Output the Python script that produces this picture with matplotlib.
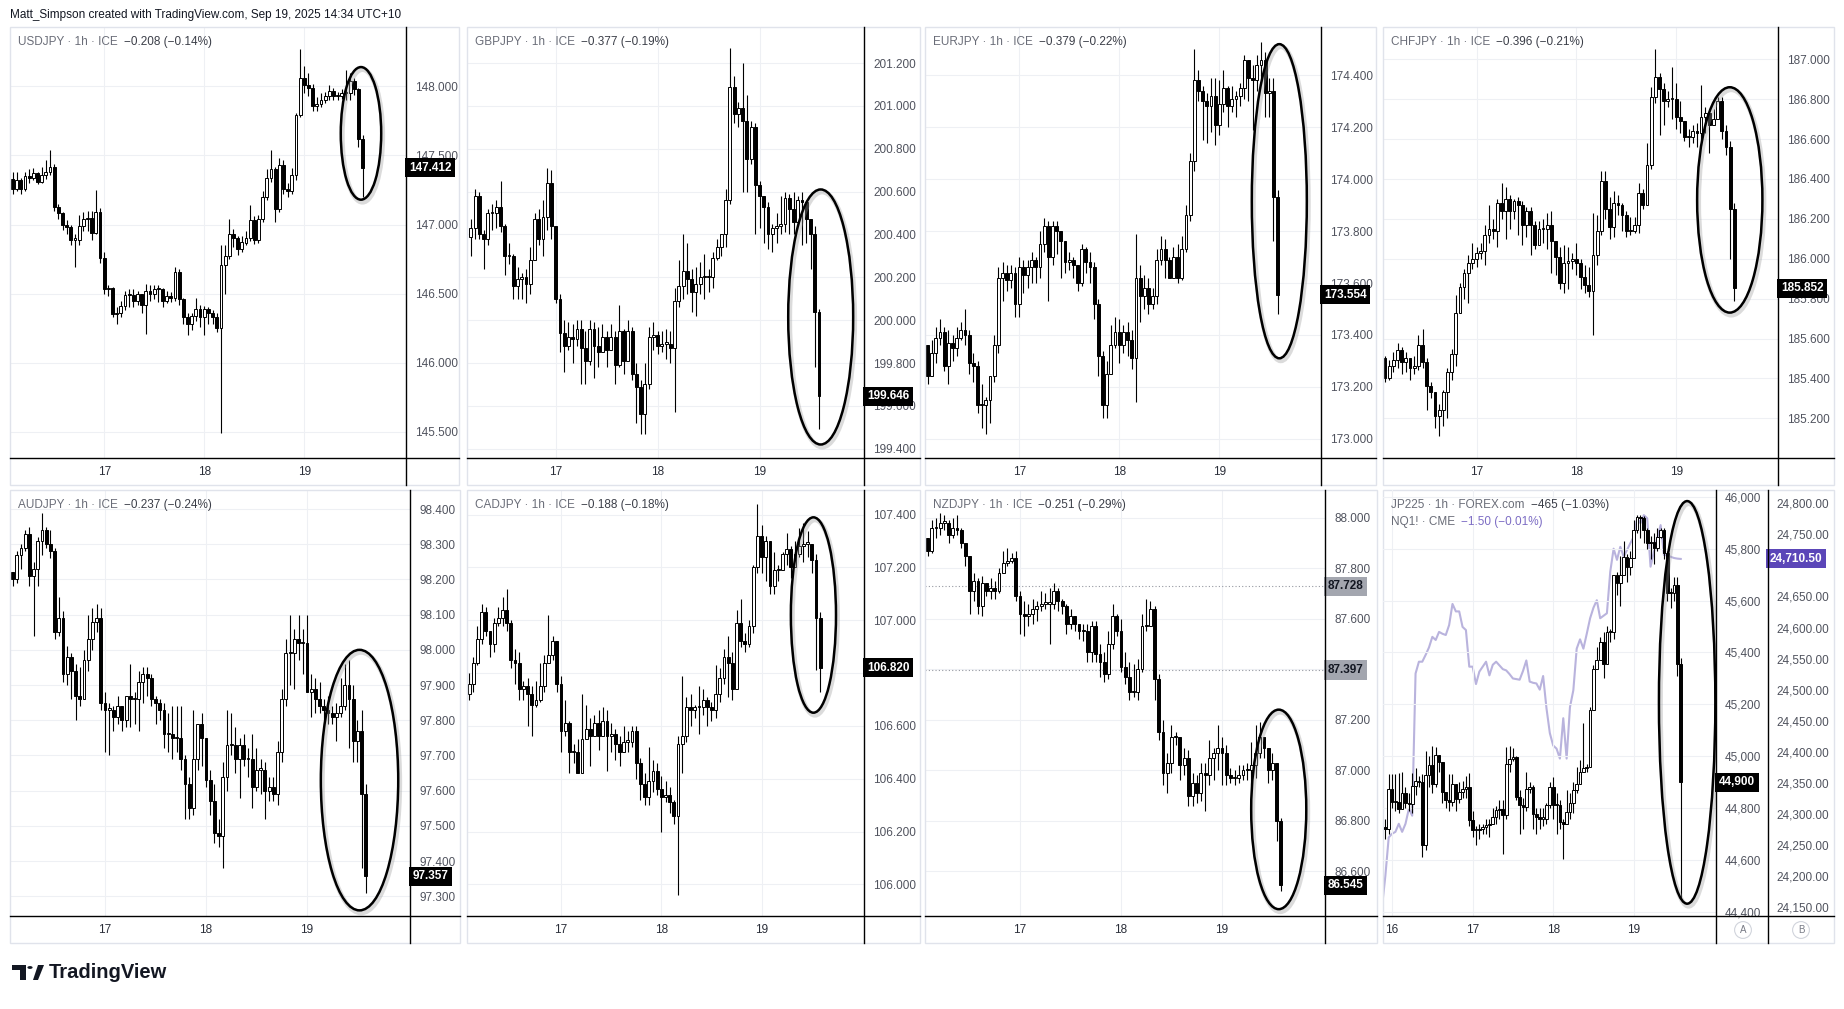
import numpy as np
import matplotlib
matplotlib.use('Agg')
import matplotlib.pyplot as plt
import matplotlib.transforms as mtransforms
from matplotlib.patches import Ellipse, Rectangle, Polygon, Circle
from matplotlib.lines import Line2D

plt.rcParams['font.family'] = ['Liberation Sans', 'DejaVu Sans']

# hours are counted from Sep 17 00:00, last candle = Sep 19 14:00
LAST_HOUR = 62
DAY_TICKS = [0, 24, 48]
DAY_LABELS = ['17', '18', '19']

# ---------------- data (hourly candles) ----------------
usdjpy_open0 = 147.33
usdjpy_close = [
    147.26, 147.32, 147.26, 147.35, 147.34, 147.37, 147.31, 147.36, 147.38, 147.42,
    147.13, 147.08, 147.00, 146.98, 146.89, 146.89, 146.99, 147.04, 147.05, 146.94,
    147.09, 146.76, 146.53, 146.54, 146.35, 146.36, 146.41, 146.49, 146.49, 146.45,
    146.50, 146.42, 146.52, 146.50, 146.53, 146.53, 146.45, 146.48, 146.47, 146.66,
    146.46, 146.33, 146.28, 146.34, 146.39, 146.33, 146.39, 146.36, 146.33, 146.25,
    146.71, 146.77, 146.93, 146.90, 146.82, 146.87, 146.90, 147.03, 146.89, 147.04,
    147.20, 147.34, 147.40, 147.11, 147.43, 147.26, 147.24, 147.36, 147.79, 148.06,
    148.01, 147.99, 147.86, 147.87, 147.90, 147.93, 147.97, 147.93, 147.93, 147.95,
    147.95, 148.04, 147.98, 147.62, 147.412]
usdjpy_high = [
    147.38, 147.38, 147.34, 147.38, 147.40, 147.41, 147.38, 147.42, 147.47, 147.54,
    147.44, 147.15, 147.09, 147.03, 147.00, 146.93, 147.07, 147.09, 147.10, 147.10,
    147.25, 147.12, 146.80, 146.56, 146.55, 146.40, 146.45, 146.52, 146.53, 146.53,
    146.52, 146.50, 146.57, 146.56, 146.56, 146.56, 146.54, 146.52, 146.51, 146.69,
    146.68, 146.47, 146.36, 146.36, 146.47, 146.42, 146.41, 146.40, 146.38, 146.36,
    146.85, 146.85, 147.04, 146.97, 146.92, 146.92, 146.95, 147.14, 147.06, 147.07,
    147.24, 147.40, 147.54, 147.42, 147.48, 147.47, 147.30, 147.41, 147.81, 148.27,
    148.15, 148.10, 148.02, 147.92, 147.95, 147.96, 148.01, 147.99, 147.96, 147.98,
    148.12, 148.10, 148.06, 147.99, 147.65]
usdjpy_low = [
    147.22, 147.24, 147.22, 147.24, 147.30, 147.32, 147.29, 147.30, 147.33, 147.36,
    147.10, 147.04, 146.96, 146.93, 146.85, 146.69, 146.85, 146.95, 146.95, 146.89,
    146.93, 146.72, 146.50, 146.48, 146.33, 146.28, 146.33, 146.38, 146.40, 146.40,
    146.42, 146.36, 146.21, 146.45, 146.46, 146.44, 146.40, 146.43, 146.44, 146.45,
    146.42, 146.28, 146.20, 146.24, 146.30, 146.26, 146.20, 146.28, 146.28, 146.22,
    145.49, 146.50, 146.75, 146.84, 146.78, 146.80, 146.85, 146.88, 146.86, 146.87,
    147.02, 147.18, 147.31, 147.02, 147.09, 147.22, 147.20, 147.22, 147.32, 147.78,
    147.95, 147.93, 147.82, 147.82, 147.85, 147.88, 147.90, 147.90, 147.90, 147.91,
    147.90, 147.90, 147.94, 147.56, 147.20]

gbpjpy_open0 = 200.39
gbpjpy_close = [
    200.43, 200.58, 200.40, 200.38, 200.50, 200.50, 200.53, 200.44, 200.30, 200.30,
    200.16, 200.19, 200.20, 200.17, 200.28, 200.47, 200.38, 200.48, 200.64, 200.44,
    200.10, 199.94, 199.88, 199.92, 199.91, 199.96, 199.87, 199.81, 199.96, 199.88,
    199.85, 199.92, 199.86, 199.92, 199.79, 199.95, 199.81, 199.95, 199.75, 199.69,
    199.56, 199.70, 199.92, 199.93, 199.88, 199.89, 199.89, 199.87, 200.09, 200.16,
    200.23, 200.19, 200.13, 200.17, 200.20, 200.20, 200.20, 200.29, 200.34, 200.40,
    200.56, 201.09, 200.96, 200.99, 200.93, 200.75, 200.90, 200.63, 200.58, 200.53,
    200.40, 200.43, 200.44, 200.45, 200.57, 200.52, 200.46, 200.56, 200.55, 200.47,
    200.40, 200.04, 199.646]
gbpjpy_high = [
    200.47, 200.61, 200.60, 200.42, 200.52, 200.54, 200.56, 200.65, 200.45, 200.36,
    200.31, 200.25, 200.22, 200.24, 200.34, 200.50, 200.52, 200.56, 200.71, 200.70,
    200.44, 200.12, 200.00, 199.99, 199.98, 200.00, 200.00, 199.95, 200.00, 199.99,
    199.97, 199.98, 199.95, 199.98, 199.95, 200.07, 199.96, 200.00, 199.97, 199.80,
    199.72, 199.80, 199.97, 199.99, 199.95, 199.95, 199.96, 199.95, 200.15, 200.28,
    200.40, 200.36, 200.24, 200.25, 200.27, 200.31, 200.24, 200.32, 200.38, 200.40,
    200.61, 201.27, 201.14, 201.02, 201.20, 201.05, 200.93, 200.92, 200.65, 200.58,
    200.55, 200.45, 200.50, 200.58, 200.60, 200.59, 200.60, 200.58, 200.60, 200.55,
    200.47, 200.44, 200.05]
gbpjpy_low = [
    200.30, 200.38, 200.38, 200.24, 200.35, 200.42, 200.43, 200.41, 200.21, 200.26,
    200.10, 200.10, 200.10, 200.08, 200.12, 200.28, 200.35, 200.30, 200.42, 200.38,
    200.08, 199.85, 199.76, 199.86, 199.80, 199.88, 199.70, 199.70, 199.79, 199.73,
    199.78, 199.85, 199.78, 199.86, 199.70, 199.78, 199.75, 199.82, 199.72, 199.52,
    199.47, 199.47, 199.68, 199.86, 199.84, 199.85, 199.82, 199.80, 199.57, 200.06,
    200.10, 200.12, 200.04, 200.02, 200.12, 200.10, 200.13, 200.15, 200.28, 200.30,
    200.34, 200.54, 200.92, 200.90, 200.60, 200.60, 200.73, 200.40, 200.43, 200.36,
    200.33, 200.32, 200.36, 200.40, 200.41, 200.40, 200.40, 200.44, 200.35, 200.36,
    200.24, 199.78, 199.49]

eurjpy_open0 = 173.36
eurjpy_close = [
    173.24, 173.33, 173.39, 173.41, 173.28, 173.37, 173.35, 173.39, 173.42, 173.40,
    173.29, 173.28, 173.13, 173.13, 173.15, 173.24, 173.36, 173.62, 173.64, 173.61,
    173.64, 173.52, 173.66, 173.63, 173.66, 173.69, 173.66, 173.75, 173.82, 173.70,
    173.82, 173.80, 173.76, 173.68, 173.69, 173.67, 173.60, 173.73, 173.68, 173.66,
    173.52, 173.32, 173.13, 173.25, 173.36, 173.41, 173.36, 173.41, 173.38, 173.31,
    173.62, 173.55, 173.58, 173.52, 173.55, 173.69, 173.73, 173.69, 173.62, 173.70,
    173.62, 173.73, 173.86, 174.07, 174.38, 174.34, 174.30, 174.28, 174.32, 174.21,
    174.29, 174.35, 174.28, 174.31, 174.32, 174.35, 174.46, 174.39, 174.38, 174.44,
    174.46, 174.33, 174.34, 173.93, 173.554]
eurjpy_high = [
    173.35, 173.38, 173.43, 173.46, 173.43, 173.42, 173.40, 173.43, 173.45, 173.50, 173.42,
    173.33, 173.30, 173.21, 173.16, 173.23, 173.40, 173.66, 173.68, 173.67, 173.67, 173.66,
    173.70, 173.69, 173.69, 173.72, 173.70, 173.80, 173.85, 173.84, 173.84, 173.84, 173.78,
    173.74, 173.72, 173.70, 173.67, 173.75, 173.74, 173.72, 173.68, 173.54, 173.34,
    173.30, 173.44, 173.47, 173.46, 173.44, 173.45, 173.42, 173.79, 173.67, 173.63, 173.62,
    173.58, 173.73, 173.78, 173.77, 173.70, 173.74, 173.75, 173.78, 173.90, 174.10,
    174.50, 174.42, 174.36, 174.33, 174.39, 174.39, 174.38, 174.42, 174.36, 174.36, 174.34,
    174.37, 174.48, 174.46, 174.44, 174.48, 174.53, 174.49, 174.39, 174.39, 173.96]
eurjpy_low = [
    173.21, 173.24, 173.29, 173.36, 173.26, 173.21, 173.30, 173.32, 173.38, 173.36, 173.25,
    173.22, 173.10, 173.04, 173.02, 173.06, 173.22, 173.33, 173.53, 173.57, 173.58, 173.47,
    173.47, 173.56, 173.58, 173.60, 173.60, 173.62, 173.72, 173.53, 173.67, 173.71, 173.62,
    173.64, 173.65, 173.62, 173.57, 173.59, 173.64, 173.60, 173.46, 173.24, 173.08,
    173.08, 173.30, 173.35, 173.29, 173.33, 173.32, 173.27, 173.14, 173.45, 173.50, 173.48,
    173.50, 173.52, 173.67, 173.62, 173.62, 173.62, 173.60, 173.61, 173.72, 173.84,
    174.03, 174.30, 174.15, 174.14, 174.18, 174.13, 174.17, 174.26, 174.20, 174.26, 174.24,
    174.28, 174.31, 174.30, 174.19, 174.34, 174.39, 174.24, 174.24, 173.76, 173.48]

chfjpy_open0 = 185.50
chfjpy_close = [
    185.40, 185.46, 185.49, 185.54, 185.48, 185.50, 185.45, 185.46, 185.57, 185.48,
    185.36, 185.33, 185.21, 185.24, 185.33, 185.43, 185.52, 185.73, 185.86, 185.93,
    185.98, 186.00, 186.03, 186.04, 186.12, 186.15, 186.14, 186.28, 186.24, 186.30,
    186.24, 186.29, 186.27, 186.17, 186.24, 186.17, 186.07, 186.15, 186.15, 186.17,
    186.09, 186.01, 185.88, 185.98, 185.99, 186.00, 185.98, 185.91, 185.87, 185.84,
    186.02, 186.14, 186.39, 186.25, 186.16, 186.28, 186.27, 186.22, 186.14, 186.14,
    186.17, 186.33, 186.27, 186.47, 186.81, 186.91, 186.85, 186.79, 186.80, 186.80,
    186.71, 186.69, 186.61, 186.61, 186.64, 186.63, 186.71, 186.73, 186.67, 186.70,
    186.79, 186.64, 186.56, 186.25, 185.852]
chfjpy_high = [
    185.51, 185.49, 185.53, 185.58, 185.56, 185.53, 185.50, 185.51, 185.62, 185.65, 185.50,
    185.38, 185.32, 185.27, 185.34, 185.45, 185.55, 185.82, 185.88, 185.95, 186.02, 186.08,
    186.06, 186.08, 186.17, 186.27, 186.20, 186.30, 186.38, 186.36, 186.32, 186.30, 186.31,
    186.29, 186.26, 186.26, 186.19, 186.19, 186.20, 186.23, 186.24, 186.07, 186.06,
    186.07, 186.06, 186.03, 186.08, 186.00, 185.97, 185.96, 186.23, 186.22, 186.44, 186.44,
    186.31, 186.34, 186.32, 186.28, 186.24, 186.21, 186.21, 186.38, 186.35, 186.58,
    186.86, 187.05, 186.93, 186.88, 186.84, 186.96, 186.88, 186.79, 186.65, 186.65, 186.67,
    186.68, 186.87, 186.76, 186.72, 186.75, 186.81, 186.81, 186.67, 186.59, 186.28]
chfjpy_low = [
    185.38, 185.39, 185.43, 185.45, 185.42, 185.43, 185.39, 185.42, 185.44, 185.45, 185.24,
    185.30, 185.15, 185.11, 185.16, 185.20, 185.39, 185.46, 185.73, 185.80, 185.78, 185.95,
    185.96, 186.00, 185.97, 186.08, 186.10, 186.06, 186.20, 186.10, 186.15, 186.20, 186.12,
    186.07, 186.11, 186.02, 186.05, 186.13, 186.08, 186.05, 185.93, 185.92, 185.85,
    185.83, 185.85, 185.95, 185.92, 185.85, 185.83, 185.81, 185.62, 185.97, 186.12, 186.20,
    186.10, 186.11, 186.22, 186.14, 186.11, 186.12, 186.13, 186.13, 186.25, 186.43,
    186.45, 186.78, 186.62, 186.67, 186.76, 186.70, 186.65, 186.63, 186.59, 186.56, 186.58,
    186.56, 186.59, 186.63, 186.53, 186.67, 186.71, 186.60, 186.52, 186.00, 185.79]

audjpy_open0 = 98.22
audjpy_close = [
    98.20, 98.27, 98.29, 98.33, 98.21, 98.23, 98.31, 98.34, 98.30, 98.28,
    98.05, 98.09, 97.93, 97.98, 97.94, 97.87, 97.86, 97.97, 98.03, 98.08,
    98.09, 97.85, 97.83, 97.83, 97.81, 97.84, 97.80, 97.87, 97.86, 97.86,
    97.91, 97.93, 97.92, 97.86, 97.85, 97.83, 97.76, 97.76, 97.75, 97.75,
    97.69, 97.62, 97.55, 97.69, 97.79, 97.75, 97.63, 97.57, 97.48, 97.47,
    97.64, 97.73, 97.73, 97.69, 97.73, 97.69, 97.69, 97.61, 97.66, 97.66,
    97.60, 97.61, 97.59, 97.71, 97.86, 97.99, 97.99, 98.03, 98.02, 98.02,
    97.88, 97.89, 97.86, 97.84, 97.83, 97.82, 97.81, 97.82, 97.84, 97.90,
    97.86, 97.74, 97.77, 97.59, 97.357]
audjpy_high = [
    98.22, 98.28, 98.30, 98.34, 98.35, 98.25, 98.32, 98.39, 98.35, 98.34, 98.29,
    98.15, 98.11, 98.01, 97.99, 97.96, 97.95, 98.00, 98.10, 98.12, 98.13, 98.12,
    97.88, 97.85, 97.84, 97.87, 97.84, 97.87, 97.96, 97.88, 97.94, 97.95, 97.95,
    97.93, 97.87, 97.86, 97.85, 97.82, 97.84, 97.84, 97.84, 97.70, 97.64,
    97.83, 97.79, 97.82, 97.75, 97.66, 97.62, 97.52, 97.68, 97.83, 97.82, 97.78,
    97.75, 97.76, 97.72, 97.76, 97.72, 97.69, 97.68, 97.64, 97.64, 97.74,
    97.89, 98.03, 98.10, 98.06, 98.10, 98.06, 98.10, 97.93, 97.92, 97.91, 97.86,
    97.87, 97.84, 97.85, 97.92, 97.96, 97.97, 97.90, 97.80, 97.83, 97.62]
audjpy_low = [
    98.18, 98.19, 98.23, 98.28, 98.18, 98.04, 98.18, 98.27, 98.29, 98.26, 98.03,
    98.04, 97.91, 97.90, 97.86, 97.80, 97.84, 97.91, 97.94, 98.00, 98.05, 97.83,
    97.71, 97.70, 97.77, 97.79, 97.77, 97.78, 97.78, 97.79, 97.77, 97.85, 97.87,
    97.84, 97.79, 97.80, 97.72, 97.71, 97.69, 97.71, 97.66, 97.52, 97.52,
    97.53, 97.66, 97.67, 97.61, 97.53, 97.45, 97.44, 97.38, 97.60, 97.70, 97.65,
    97.58, 97.67, 97.64, 97.55, 97.60, 97.59, 97.52, 97.57, 97.57, 97.56,
    97.68, 97.84, 97.90, 97.89, 97.97, 97.93, 97.92, 97.81, 97.82, 97.82, 97.80,
    97.79, 97.79, 97.74, 97.81, 97.83, 97.72, 97.68, 97.68, 97.38, 97.31]

cadjpy_open0 = 106.72
cadjpy_close = [
    106.76, 106.84, 106.93, 107.03, 106.96, 106.91, 106.99, 107.01, 107.04, 106.99,
    106.85, 106.84, 106.74, 106.75, 106.72, 106.68, 106.70, 106.75, 106.84, 106.87,
    106.92, 106.76, 106.58, 106.61, 106.50, 106.50, 106.42, 106.55, 106.59, 106.56,
    106.61, 106.56, 106.62, 106.56, 106.57, 106.53, 106.50, 106.54, 106.54, 106.58,
    106.46, 106.38, 106.33, 106.39, 106.43, 106.36, 106.33, 106.34, 106.31, 106.26,
    106.53, 106.56, 106.67, 106.66, 106.67, 106.67, 106.70, 106.67, 106.66, 106.72,
    106.78, 106.86, 106.84, 106.74, 106.99, 106.92, 106.91, 106.98, 107.20, 107.32,
    107.24, 107.30, 107.13, 107.19, 107.19, 107.25, 107.27, 107.20, 107.25, 107.28,
    107.29, 107.29, 107.23, 107.01, 106.82]
cadjpy_high = [
    106.80, 106.86, 106.98, 107.06, 107.05, 106.96, 107.01, 107.05, 107.09, 107.12, 107.00,
    106.89, 106.88, 106.77, 106.78, 106.75, 106.77, 106.84, 106.87, 107.02, 106.94, 106.91,
    106.79, 106.70, 106.62, 106.53, 106.55, 106.72, 106.68, 106.63, 106.64, 106.66, 106.67,
    106.66, 106.61, 106.59, 106.56, 106.60, 106.58, 106.60, 106.60, 106.48, 106.42,
    106.52, 106.47, 106.46, 106.41, 106.39, 106.37, 106.32, 106.56, 106.79, 106.71, 106.72,
    106.68, 106.75, 106.74, 106.71, 106.69, 106.83, 106.82, 106.89, 106.94, 106.88,
    107.04, 107.08, 106.95, 107.00, 107.21, 107.44, 107.36, 107.32, 107.29, 107.26, 107.21,
    107.26, 107.33, 107.28, 107.30, 107.35, 107.37, 107.34, 107.28, 107.25, 107.03]
cadjpy_low = [
    106.70, 106.73, 106.83, 106.91, 106.94, 106.86, 106.88, 106.98, 106.98, 106.96, 106.82,
    106.76, 106.70, 106.70, 106.60, 106.56, 106.67, 106.69, 106.73, 106.84, 106.85, 106.73,
    106.50, 106.56, 106.42, 106.46, 106.42, 106.49, 106.55, 106.45, 106.56, 106.51, 106.58,
    106.43, 106.50, 106.47, 106.45, 106.52, 106.50, 106.52, 106.40, 106.32, 106.30,
    106.30, 106.35, 106.34, 106.20, 106.31, 106.27, 106.23, 105.96, 106.42, 106.54, 106.60,
    106.63, 106.57, 106.64, 106.60, 106.62, 106.63, 106.69, 106.76, 106.71, 106.70,
    106.89, 106.90, 106.88, 106.90, 106.95, 107.18, 107.18, 107.15, 107.10, 107.10, 107.15,
    107.20, 107.21, 107.16, 107.20, 107.24, 107.22, 107.24, 107.18, 106.81, 106.73]

nzdjpy_open0 = 87.92
nzdjpy_close = [
    87.87, 87.96, 87.96, 87.98, 87.98, 87.93, 87.96, 87.95, 87.90, 87.85,
    87.71, 87.75, 87.65, 87.74, 87.71, 87.72, 87.71, 87.78, 87.82, 87.83,
    87.84, 87.69, 87.62, 87.61, 87.62, 87.64, 87.65, 87.66, 87.66, 87.66,
    87.71, 87.67, 87.65, 87.58, 87.61, 87.58, 87.55, 87.55, 87.47, 87.57,
    87.46, 87.43, 87.38, 87.50, 87.61, 87.55, 87.41, 87.37, 87.31, 87.31,
    87.40, 87.57, 87.57, 87.64, 87.36, 87.15, 86.99, 87.03, 87.13, 87.13,
    87.02, 87.05, 86.90, 86.95, 86.91, 86.99, 86.98, 87.05, 87.07, 87.09,
    87.07, 86.98, 86.97, 86.97, 86.98, 87.00, 87.00, 87.02, 87.07, 87.13,
    87.09, 87.00, 87.03, 86.80, 86.545]
nzdjpy_high = [
    87.92, 87.99, 88.00, 88.02, 88.01, 87.99, 88.00, 88.01, 87.96, 87.87, 87.78,
    87.78, 87.76, 87.77, 87.74, 87.76, 87.75, 87.80, 87.87, 87.88, 87.86, 87.87,
    87.71, 87.67, 87.66, 87.68, 87.67, 87.71, 87.70, 87.72, 87.74, 87.72, 87.68,
    87.66, 87.64, 87.61, 87.58, 87.58, 87.58, 87.59, 87.59, 87.50, 87.47,
    87.55, 87.66, 87.62, 87.60, 87.47, 87.43, 87.42, 87.44, 87.62, 87.68, 87.67,
    87.65, 87.38, 87.20, 87.07, 87.18, 87.15, 87.12, 87.09, 87.08, 86.99,
    86.98, 87.03, 87.03, 87.12, 87.09, 87.18, 87.13, 87.10, 87.01, 87.00, 87.02,
    87.02, 87.03, 87.11, 87.18, 87.19, 87.13, 87.09, 87.07, 87.02, 86.81]
nzdjpy_low = [
    87.85, 87.86, 87.92, 87.93, 87.95, 87.90, 87.92, 87.93, 87.88, 87.81, 87.62,
    87.67, 87.62, 87.61, 87.69, 87.68, 87.68, 87.70, 87.78, 87.81, 87.82, 87.67,
    87.54, 87.53, 87.57, 87.58, 87.59, 87.63, 87.64, 87.50, 87.64, 87.63, 87.62,
    87.54, 87.56, 87.55, 87.52, 87.51, 87.43, 87.43, 87.43, 87.37, 87.35,
    87.36, 87.48, 87.53, 87.39, 87.34, 87.28, 87.29, 87.28, 87.39, 87.55, 87.57,
    87.28, 87.12, 86.94, 86.91, 86.99, 87.10, 86.96, 86.98, 86.86, 86.86,
    86.87, 86.88, 86.84, 86.94, 86.96, 87.00, 86.94, 86.94, 86.95, 86.94, 86.95,
    86.96, 86.96, 86.94, 86.97, 87.05, 87.05, 86.95, 86.96, 86.72, 86.52]
nzdjpy_levels = [87.728, 87.397]

jp225_open0 = 44725
jp225_close = [
    44721, 44875, 44824, 44824, 44798, 44860, 44820, 44815, 44885, 44905,
    44900, 44657, 44927, 44965, 44895, 45004, 44978, 44863, 44830, 44824,
    44895, 44837, 44862, 44875, 44880, 44753, 44715, 44715, 44720, 44728,
    44734, 44740, 44766, 44792, 44798, 44773, 44972, 44991, 44997, 44843,
    44811, 44805, 44875, 44882, 44779, 44766, 44760, 44760, 44811, 44882,
    44811, 44811, 44747, 44740, 44785, 44818, 44869, 44895, 44940, 44953,
    44959, 45177, 45338, 45370, 45441, 45357, 45479, 45479, 45698, 45666,
    45698, 45769, 45730, 45762, 45871, 45923, 45916, 45871, 45820, 45826,
    45801, 45846, 45871, 45782, 45627, 45627, 45659, 45357, 44900]
jp225_high = [
    44760, 44930, 44930, 44930, 44935, 44940, 44880, 44860, 44935, 44955, 44925, 44930, 45020,
    45000, 45040, 45035, 45000, 44880, 44860, 44930, 44930, 44880, 44900, 44905, 44925, 44935,
    44790, 44730, 44740, 44740, 44760, 44760, 44800, 44810, 44830, 44830, 45035,
    45040, 45030, 45000, 44870, 44840, 44940, 44900, 44890, 44800, 44800,
    44800, 44820, 44900, 44920, 44860, 44830, 44760, 44870, 44860, 44900, 44960,
    44985, 45130, 44970, 45190, 45350, 45420, 45460, 45480, 45500, 45490,
    45700, 45710, 45770, 45830, 45780, 45790, 45910, 45930, 45930, 45925, 45880,
    45850, 45860, 45880, 45880, 45880, 45790, 45650, 45690, 45690, 45380]
jp225_low = [
    44680, 44700, 44800, 44790, 44780, 44800, 44800, 44790, 44780, 44850, 44880, 44610, 44640,
    44880, 44860, 44880, 44940, 44820, 44800, 44790, 44810, 44790, 44820, 44840, 44840, 44730,
    44690, 44660, 44680, 44700, 44700, 44690, 44740, 44740, 44760, 44622, 44760,
    44940, 44980, 44830, 44700, 44720, 44790, 44860, 44720, 44700, 44720,
    44730, 44740, 44800, 44760, 44700, 44720, 44606, 44740, 44760, 44780, 44860,
    44900, 44950, 44940, 45140, 45320, 45340, 45390, 45300, 45460, 45440,
    45450, 45620, 45580, 45720, 45670, 45700, 45800, 45860, 45840, 45820, 45800,
    45760, 45740, 45790, 45840, 45760, 45600, 45570, 45600, 45310, 44450]

# NQ1! hourly closes (overlay line, right-most scale)
nq_close = [
    24150, 24200, 24262, 24268, 24271, 24284, 24271, 24284, 24308, 24297,
    24526, 24545, 24545, 24556, 24568, 24585, 24580, 24593, 24590, 24588,
    24604, 24638, 24626, 24626, 24601, 24596, 24537,
    24537, 24509, 24529, 24537, 24545, 24523, 24540, 24545, 24539, 24533,
    24531, 24525, 24518, 24517, 24516, 24530, 24547, 24513, 24511, 24510,
    24500, 24522, 24470, 24430, 24410, 24405, 24389, 24454, 24389, 24472,
    24499, 24566, 24581, 24566, 24590, 24615, 24632, 24644, 24615, 24619,
    24623, 24690, 24727, 24709, 24730, 24714, 24725, 24736, 24746, 24776,
    24768, 24781, 24776, 24698, 24722, 24744, 24765, 24717, 24716, 24714,
    24712, 24711, 24710.5]
nq_ticks = [24150, 24200, 24250, 24300, 24350, 24400, 24450, 24500, 24550, 24600,
            24650, 24700, 24750, 24800]

# ---------------- panel setup ----------------
fx3 = '{:.3f}'
PANELS = [
    dict(box=(10, 27, 406, 458, 459, 485), xlim=(-22.6, 72.4), ylim=(145.31, 148.43),
         yticks=[145.5, 146.0, 146.5, 147.0, 147.5, 148.0], fmt=fx3,
         name='USDJPY · 1h · ICE', chg='−0.208 (−0.14%)',
         o0=usdjpy_open0, c=usdjpy_close, h=usdjpy_high, l=usdjpy_low,
         ell=(61.6, 9.7, 148.14, 147.18)),
    dict(box=(467, 27, 864, 458, 920, 485), xlim=(-20.9, 72.6), ylim=(199.357, 201.368),
         yticks=[199.4, 199.6, 199.8, 200.0, 200.2, 200.4, 200.6, 200.8, 201.0, 201.2], fmt=fx3,
         name='GBPJPY · 1h · ICE', chg='−0.377 (−0.19%)',
         o0=gbpjpy_open0, c=gbpjpy_close, h=gbpjpy_high, l=gbpjpy_low,
         ell=(62.4, 15.3, 200.61, 199.42)),
    dict(box=(925, 27, 1321, 458, 1376, 485), xlim=(-22.6, 72.4), ylim=(172.926, 174.586),
         yticks=[173.0, 173.2, 173.4, 173.6, 173.8, 174.0, 174.2, 174.4], fmt=fx3,
         name='EURJPY · 1h · ICE', chg='−0.379 (−0.22%)',
         o0=eurjpy_open0, c=eurjpy_close, h=eurjpy_high, l=eurjpy_low,
         ell=(62.4, 13.2, 174.52, 173.31)),
    dict(box=(1383, 27, 1778, 458, 1834, 485), xlim=(-22.5, 72.5), ylim=(185.001, 187.162),
         yticks=[185.2, 185.4, 185.6, 185.8, 186.0, 186.2, 186.4, 186.6, 186.8, 187.0], fmt=fx3,
         name='CHFJPY · 1h · ICE', chg='−0.396 (−0.21%)',
         o0=chfjpy_open0, c=chfjpy_close, h=chfjpy_high, l=chfjpy_low,
         ell=(60.9, 15.7, 186.86, 185.73)),
    dict(box=(10, 490, 410, 916, 460, 943), xlim=(-22.6, 72.5), ylim=(97.244, 98.454),
         yticks=[97.3, 97.4, 97.5, 97.6, 97.7, 97.8, 97.9, 98.0, 98.1, 98.2, 98.3, 98.4], fmt=fx3,
         name='AUDJPY · 1h · ICE', chg='−0.237 (−0.24%)',
         o0=audjpy_open0, c=audjpy_close, h=audjpy_high, l=audjpy_low,
         ell=(60.5, 18.4, 98.00, 97.26)),
    dict(box=(467, 490, 864, 916, 920, 943), xlim=(-22.5, 72.5), ylim=(105.88, 107.4935),
         yticks=[106.0, 106.2, 106.4, 106.6, 106.8, 107.0, 107.2, 107.4], fmt=fx3,
         name='CADJPY · 1h · ICE', chg='−0.188 (−0.18%)',
         o0=cadjpy_open0, c=cadjpy_close, h=cadjpy_high, l=cadjpy_low,
         ell=(60.4, 10.8, 107.39, 106.65)),
    dict(box=(925, 490, 1325, 916, 1377, 943), xlim=(-22.6, 72.5), ylim=(86.423, 88.1096),
         yticks=[86.6, 86.8, 87.0, 87.2, 87.4, 87.6, 87.8, 88.0], fmt=fx3,
         name='NZDJPY · 1h · ICE', chg='−0.251 (−0.29%)',
         o0=nzdjpy_open0, c=nzdjpy_close, h=nzdjpy_high, l=nzdjpy_low,
         ell=(61.5, 13.1, 87.24, 86.45), levels=nzdjpy_levels),
    dict(box=(1383, 490, 1716, 916, 1834, 943), xlim=(-26.7, 72.5), ylim=(44384.6, 46025.7),
         yticks=[44400, 44600, 44800, 45000, 45200, 45400, 45600, 45800, 46000], fmt='{:,.0f}',
         name='JP225 · 1h · FOREX.com', chg='−465 (−1.03%)',
         o0=jp225_open0, c=jp225_close, h=jp225_high, l=jp225_low,
         ell=(63.9, 16.8, 45983, 44432), days=[-24, 0, 24, 48], day_labels=['16'] + DAY_LABELS,
         body=0.8),
]

W, H = 1844, 1009
fig = plt.figure(figsize=(W / 100, H / 100), dpi=100)


def fx(x):
    return x / W


def fy(y):
    return 1 - y / H


def fig_line(x0, y0, x1, y1, color='black', lw=1.0):
    fig.add_artist(Line2D([fx(x0), fx(x1)], [fy(y0), fy(y1)], color=color, lw=lw,
                          transform=fig.transFigure))


def draw_candles(ax, o0, closes, highs, lows, width):
    c = np.array(closes, dtype=float)
    o = np.concatenate([[o0], c[:-1]])
    hi = np.maximum(np.array(highs, dtype=float), np.maximum(o, c))
    lo = np.minimum(np.array(lows, dtype=float), np.minimum(o, c))
    x = LAST_HOUR - (len(c) - 1) + np.arange(len(c))
    ax.vlines(x, lo, hi, color='black', lw=0.8, zorder=3)
    span = ax.get_ylim()[1] - ax.get_ylim()[0]
    body = np.maximum(np.abs(c - o), span * 0.003)
    colors = np.where(c >= o, 'white', 'black')
    ax.bar(x, body, width, bottom=np.minimum(o, c), color=colors, edgecolor='black',
           linewidth=0.7, zorder=4)


def price_tag(ax, y, text, fc, tc='white', dx=3, xfrac=1.0):
    ax.annotate(text, xy=(xfrac, y), xycoords=('axes fraction', 'data'), xytext=(dx, 0),
                textcoords='offset pixels', ha='left', va='center', fontsize=8.5,
                fontweight='bold', color=tc, zorder=10, annotation_clip=False,
                bbox=dict(boxstyle='square,pad=0.3', fc=fc, ec='none'))


def tick_labels(ticks, fmt, tags, px_per_unit):
    # price labels that sit right under a tag are hidden, as on the original
    out = []
    for v in ticks:
        hidden = any(abs(v - t) * px_per_unit < 8 for t in tags)
        out.append('' if hidden else fmt.format(v))
    return out


def header(ax, name, chg, dy, chg_color='#3b3e48'):
    t1 = ax.annotate(name, xy=(0, 1), xycoords='axes fraction', xytext=(8, dy),
                     textcoords='offset pixels', ha='left', va='center', fontsize=8.5,
                     color='#6a6d78', zorder=10)
    ax.annotate(chg, xy=(1, 0.5), xycoords=t1, xytext=(6, 0), textcoords='offset pixels',
                ha='left', va='center', fontsize=8.5, color=chg_color, zorder=10)
    return t1


def draw_panel(p):
    left, top, axis_x, base_y, right, bottom = p['box']
    fig.add_artist(Rectangle((fx(left), fy(bottom)), fx(right) - fx(left), fy(top) - fy(bottom),
                             fill=False, ec='#e0e3eb', lw=1.0, transform=fig.transFigure))
    ax = fig.add_axes([fx(left), fy(base_y), fx(axis_x) - fx(left), fy(top) - fy(base_y)])
    ax.set_xlim(p['xlim'])
    ax.set_ylim(p['ylim'])
    for s in ax.spines.values():
        s.set_visible(False)
    ax.set_xticks(p.get('days', DAY_TICKS))
    ax.set_xticklabels(p.get('day_labels', DAY_LABELS))
    px_per_unit = (base_y - top) / (p['ylim'][1] - p['ylim'][0])
    tags = [p['c'][-1]] + list(p.get('levels', []))
    ax.set_yticks(p['yticks'])
    ax.set_yticklabels(tick_labels(p['yticks'], p['fmt'], tags, px_per_unit))
    ax.yaxis.tick_right()
    ax.tick_params(axis='y', length=0, pad=6.5, labelsize=8.5, labelcolor='#50535e')
    ax.tick_params(axis='x', length=0, pad=5.5, labelsize=8.5, labelcolor='#2a2e39')
    ax.grid(True, color='#eef0f4', lw=0.8)
    ax.set_axisbelow(True)

    draw_candles(ax, p['o0'], p['c'], p['h'], p['l'], p.get('body', 0.68))

    for lev in p.get('levels', []):
        ax.axhline(lev, color='#9598a1', lw=0.8, ls=(0, (1, 2)), zorder=2)
        price_tag(ax, lev, p['fmt'].format(lev), fc='#a3a6af', tc='#131722')

    price_tag(ax, p['c'][-1], p['fmt'].format(p['c'][-1]), fc='black')

    # hand-drawn ellipse with a soft shadow
    cx, wd, e_top, e_bot = p['ell']
    cy, ht = (e_top + e_bot) / 2, e_top - e_bot
    shadow_tr = mtransforms.offset_copy(ax.transData, fig=fig, x=1.5, y=-2.5, units='dots')
    ax.add_patch(Ellipse((cx, cy), wd, ht, fill=False, ec='#9a9a9a', lw=3.5, alpha=0.35,
                         transform=shadow_tr, zorder=6))
    ax.add_patch(Ellipse((cx, cy), wd, ht, fill=False, ec='black', lw=1.8, zorder=7))

    header(ax, p['name'], p['chg'], -15)

    fig_line(axis_x, top, axis_x, bottom)
    fig_line(left, base_y, right, base_y)
    return ax


axes = [draw_panel(p) for p in PANELS]

# ---- NQ1! overlay on the JP225 panel, with its own scale (B) ----
ax8 = axes[-1]
p8 = PANELS[-1]
left, top, axis_x, base_y, right, bottom = p8['box']
axis_b = 1768
nq_ylim = (24135.5, 24821.5)
ax_nq = fig.add_axes(ax8.get_position())
ax_nq.set_xlim(p8['xlim'])
ax_nq.set_ylim(nq_ylim)
nq_x = LAST_HOUR - (len(nq_close) - 1) + np.arange(len(nq_close))
ax_nq.plot(nq_x, nq_close, color='#b9b3dd', lw=1.5)
ax_nq.patch.set_visible(False)
for s in ax_nq.spines.values():
    s.set_visible(False)
ax_nq.set_xticks([])
ax_nq.set_yticks(nq_ticks)
ax_nq.set_yticklabels(tick_labels(nq_ticks, '{:,.2f}', [nq_close[-1]],
                                  (base_y - top) / (nq_ylim[1] - nq_ylim[0])))
ax_nq.yaxis.tick_right()
ax_nq.tick_params(axis='y', length=0, pad=(axis_b - axis_x + 8) / 1.389, labelsize=8.5,
                  labelcolor='#50535e')
ax8.set_zorder(ax_nq.get_zorder() + 1)
ax8.patch.set_visible(False)
xfrac_b = (axis_b - left) / (axis_x - left)
ax_nq.annotate('{:,.2f}'.format(nq_close[-1]), xy=(xfrac_b, nq_close[-1]),
               xycoords=('axes fraction', 'data'), xytext=(2, 0), textcoords='offset pixels',
               ha='left', va='center', fontsize=8.5, fontweight='bold', color='white',
               annotation_clip=False, zorder=10,
               bbox=dict(boxstyle='square,pad=0.3', fc='#5b46b8', ec='none'))
t_nq = ax8.annotate('NQ1! · CME', xy=(0, 1), xycoords='axes fraction', xytext=(8, -32),
                    textcoords='offset pixels', ha='left', va='center', fontsize=8.5,
                    color='#6a6d78', zorder=10)
ax8.annotate('−1.50 (−0.01%)', xy=(1, 0.5), xycoords=t_nq, xytext=(6, 0),
             textcoords='offset pixels', ha='left', va='center', fontsize=8.5,
             color='#7c6cc4', zorder=10)
fig_line(axis_b, top, axis_b, bottom)
for lx, letter in [(1743, 'A'), (1801, 'B')]:
    fig.text(fx(lx), fy(930), letter, ha='center', va='center', fontsize=7, color='#787b86',
             bbox=dict(boxstyle='circle,pad=0.35', fc='none', ec='#d1d4dc', lw=0.8))

# ---- header and footer ----
fig.text(fx(10), fy(15), 'Matt_Simpson created with TradingView.com, Sep 19, 2025 14:34 UTC+10',
         ha='left', va='center', fontsize=8.5, color='#131722')

fig.add_artist(Polygon([(fx(12), fy(965)), (fx(26), fy(965)), (fx(26), fy(980)), (fx(20), fy(980)),
                        (fx(20), fy(970)), (fx(12), fy(970))], closed=True, fc='#131722',
                       ec='none', transform=fig.transFigure))
fig.add_artist(Circle((fx(30), fy(967.5)), 2.6 / W, fc='#131722', ec='none',
                      transform=fig.transFigure))
fig.add_artist(Polygon([(fx(33), fy(980)), (fx(38), fy(965)), (fx(44), fy(965)), (fx(38), fy(980))],
                       closed=True, fc='#131722', ec='none', transform=fig.transFigure))
fig.text(fx(49), fy(972.5), 'TradingView', ha='left', va='center', fontsize=14.5,
         fontweight='bold', color='#131722')

fig.savefig('out.png', dpi=100, facecolor='white')
